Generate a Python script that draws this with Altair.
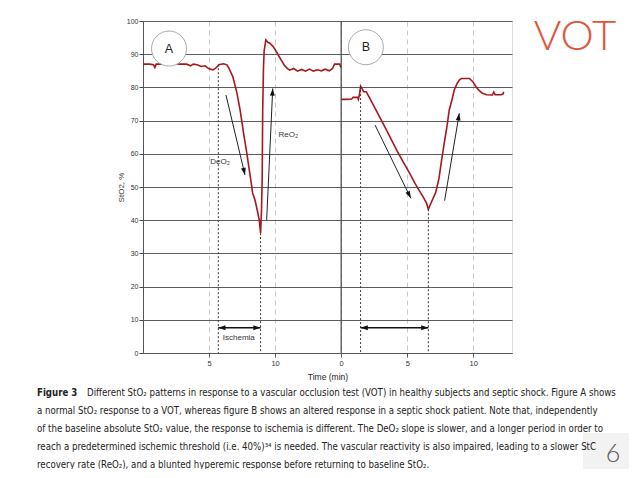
import altair as alt
import pandas as pd

# ---------------- data ----------------
A_time = [0.0, 0.5, 0.8, 0.9, 1.0, 1.6, 2.2, 2.8, 3.3, 3.6, 3.8, 4.1, 4.4, 4.7, 5.0, 5.3, 5.5, 5.8, 6.1, 6.35,
          6.5, 6.8, 7.1, 7.35, 7.6, 7.86, 8.05, 8.2, 8.3, 8.48, 8.65, 8.8, 8.9, 8.97, 9.02, 9.06, 9.12, 9.17, 9.3,
          9.45, 9.6, 9.85, 10.1, 10.3, 10.5, 10.7, 10.9, 11.1, 11.4, 11.7, 12.0, 12.3, 12.6, 12.9, 13.2, 13.5,
          13.8, 14.1, 14.35, 14.5, 14.7, 14.9, 14.97]
A_sto2 = [87.0, 87.0, 86.8, 86.0, 87.0, 87.0, 87.2, 87.0, 87.0, 86.5, 87.0, 86.8, 86.3, 86.5, 85.6, 85.3, 85.8,
          86.9, 87.1, 86.8, 85.8, 83.2, 78.5, 73.2, 66.5, 60.1, 55.0, 51.0, 48.2, 46.0, 43.0, 40.0, 36.1, 43.0,
          52.0, 73.0, 86.0, 91.0, 94.3, 93.6, 93.3, 92.3, 90.8, 89.3, 88.0, 86.7, 85.8, 85.2, 85.7, 84.9, 85.4,
          84.9, 85.5, 84.9, 85.3, 85.0, 85.5, 85.0, 85.7, 87.0, 87.0, 87.0, 86.0]

B_time = [0.0, 0.4, 0.8, 0.9, 1.1, 1.25, 1.3, 1.38, 1.47, 1.6, 1.7, 1.9, 2.1, 2.5, 2.9, 3.5, 4.2, 4.7, 5.2, 5.6,
          5.9, 6.2, 6.45, 6.6, 6.9, 7.15, 7.4, 7.6, 7.8, 8.0, 8.18, 8.4, 8.56, 8.75, 8.94, 9.1, 9.4, 9.7, 9.95,
          10.2, 10.45, 10.7, 11.0, 11.45, 11.55, 11.65, 12.1, 12.25, 12.3]
B_sto2 = [76.4, 76.4, 76.5, 77.0, 77.0, 77.0, 76.4, 77.7, 80.4, 79.5, 78.7, 78.7, 77.2, 74.2, 71.2, 66.6, 61.1,
          57.5, 54.0, 51.0, 49.0, 47.0, 45.2, 43.3, 46.1, 48.3, 52.5, 58.0, 63.2, 68.0, 73.2, 76.5, 79.2, 81.0,
          82.2, 82.7, 82.7, 82.7, 81.8, 80.2, 79.0, 78.2, 77.8, 77.7, 78.6, 77.8, 77.8, 78.0, 78.7]

B_OFFSET = 15          # panel B starts where panel A's 15-minute window ends
X_MAX = 27.93

# occlusion start / end markers (time, StO2 reached)
A_events_t = [5.7, 8.9]
A_events_v = [87.0, 36.1]
B_events_t = [1.47, 6.6]
B_events_v = [80.4, 43.3]
ISCH_LEVEL = 7.6

# DeO2 / ReO2 arrows (panel, start t, start v, end t, end v)
arr_panel = ["A", "A", "B", "B"]
arr_t0 = [6.28, 9.36, 2.56, 7.83]
arr_v0 = [77.7, 40.1, 68.7, 45.9]
arr_t1 = [7.72, 9.82, 5.27, 8.94]
arr_v1 = [53.6, 79.7, 46.6, 72.2]
arr_angle = [167, 3, 154, 9]

caption_head = "Figure 3"
caption_lines = [
    "Different StO₂ patterns in response to a vascular occlusion test (VOT) in healthy subjects and septic shock. Figure A shows",
    "a normal StO₂ response to a VOT, whereas figure B shows an altered response in a septic shock patient. Note that, independently",
    "of the baseline absolute StO₂ value, the response to ischemia is different. The DeO₂ slope is slower, and a longer period in order to",
    "reach a predetermined ischemic threshold (i.e. 40%)³⁴ is needed. The vascular reactivity is also impaired, leading to a slower StC",
    "recovery rate (ReO₂), and a blunted hyperemic response before returning to baseline StO₂.",
]

# ---------------- tables ----------------
def off(panel):
    return B_OFFSET if panel == "B" else 0

curves = pd.concat([
    pd.DataFrame({"t": A_time, "v": A_sto2, "panel": "A"}),
    pd.DataFrame({"t": [x + B_OFFSET for x in B_time], "v": B_sto2, "panel": "B"}),
])
events = pd.DataFrame({
    "t": A_events_t + [x + B_OFFSET for x in B_events_t],
    "v": A_events_v + B_events_v,
})
isch = pd.DataFrame({
    "t": [A_events_t[0], B_events_t[0] + B_OFFSET],
    "t2": [A_events_t[1], B_events_t[1] + B_OFFSET],
    "v": [ISCH_LEVEL, ISCH_LEVEL],
})
isch_heads = pd.DataFrame({
    "t": [A_events_t[0], A_events_t[1], B_events_t[0] + B_OFFSET, B_events_t[1] + B_OFFSET],
    "v": [ISCH_LEVEL] * 4,
    "ang": [270, 90, 270, 90],
})
arrows = pd.DataFrame({
    "t": [a + off(p) for a, p in zip(arr_t0, arr_panel)],
    "v": arr_v0,
    "t2": [a + off(p) for a, p in zip(arr_t1, arr_panel)],
    "v2": arr_v1,
    "ang": arr_angle,
})
labels = pd.DataFrame({
    "t": [5.83, 11.0, 7.25],
    "v": [57.6, 65.7, 4.5],
    "txt": ["DeO₂", "ReO₂", "Ischemia"],
})
badges = pd.DataFrame({"t": [1.97, 1.87 + B_OFFSET], "v": [91.7, 92.1], "txt": ["A", "B"]})

# ---------------- encodings ----------------
FONT = "Liberation Sans"
xscale = alt.Scale(domain=[0, X_MAX], nice=False, zero=False)
yscale = alt.Scale(domain=[0, 100], nice=False)
xaxis = alt.Axis(title="Time (min)", values=[5, 10, 15, 20, 25],
                 labelExpr="datum.value >= 15 ? format(datum.value - 15, 'd') : format(datum.value, 'd')",
                 grid=True, gridColor="#c8c8c8", gridDash=[5, 4], gridWidth=1,
                 domainColor="#555", tickColor="#555", tickSize=4, labelFontSize=7.5,
                 labelColor="#333", labelPadding=2, titleFontSize=8.5, titleFontWeight="normal",
                 titleColor="#222", titlePadding=6, labelFont=FONT, titleFont=FONT)
yaxis = alt.Axis(title="StO2, %", values=list(range(0, 101, 10)), grid=True, gridColor="#5c5c5c",
                 gridWidth=1.1, domainColor="#555", tickColor="#444", tickSize=4, labelFontSize=7,
                 labelColor="#333", labelPadding=1, titleFontSize=8, titleFontWeight="normal",
                 titleColor="#333", titlePadding=1, labelFont=FONT, titleFont=FONT)


def X(f):
    return alt.X(f, type="quantitative", scale=xscale, axis=xaxis)


def Y(f):
    return alt.Y(f, type="quantitative", scale=yscale, axis=yaxis)


PX, PY = 143, 21  # page position of the plot origin


def txt(s, px, py, size, font=FONT, color="#222", weight="normal", align="left", baseline="middle"):
    return alt.Chart(pd.DataFrame({"s": [s]})).mark_text(
        font=font, fontSize=size, color=color, fontWeight=weight, align=align, baseline=baseline
    ).encode(x=alt.value(px - PX), y=alt.value(py - PY), text="s:N")


line = alt.Chart(curves).mark_line(color="#a5181c", strokeWidth=1.6, interpolate="linear").encode(
    x=X("t"), y=Y("v"), detail="panel:N", order="t:Q")

sep = alt.Chart(pd.DataFrame({"t": [B_OFFSET]})).mark_rule(color="#444", strokeWidth=1.2).encode(x=X("t"))

ev = alt.Chart(events).mark_rule(color="#333", strokeDash=[2, 2], strokeWidth=1).encode(
    x=X("t"), y=Y("v"), y2=alt.Y2(datum=0))

isch_r = alt.Chart(isch).mark_rule(color="#111", strokeWidth=1.3).encode(x=X("t"), x2="t2", y=Y("v"))
ARROW = "M0,0 L-1.2,3.6 L1.2,3.6 Z"
isch_h = alt.Chart(isch_heads).mark_point(shape=ARROW, filled=True, color="#111", size=16, opacity=1).encode(
    x=X("t"), y=Y("v"), angle=alt.Angle("ang:Q", scale=None))

arr_r = alt.Chart(arrows).mark_rule(color="#222", strokeWidth=1).encode(x=X("t"), x2="t2", y=Y("v"), y2="v2")
arr_h = alt.Chart(arrows).mark_point(shape=ARROW, filled=True, color="#111", size=16, opacity=1).encode(
    x=X("t2"), y=Y("v2"), angle=alt.Angle("ang:Q", scale=None))

lab = alt.Chart(labels).mark_text(font=FONT, fontSize=8, color="#333").encode(x=X("t"), y=Y("v"), text="txt:N")

circ = alt.Chart(badges).mark_point(shape="circle", filled=True, fill="white", stroke="#aaa",
                                    strokeWidth=1, size=1225, opacity=1).encode(x=X("t"), y=Y("v"))
circ_t = alt.Chart(badges).mark_text(font=FONT, fontSize=12.5, color="#222").encode(
    x=X("t"), y=Y("v"), text="txt:N")

# slide decorations
box = alt.Chart(pd.DataFrame({"a": [0]})).mark_rect(color="#f2f2f2").encode(
    x=alt.value(583 - PX), x2=alt.value(630 - PX), y=alt.value(433 - PY), y2=alt.value(470 - PY))

CAP_FONT = "DejaVu Sans Condensed, Roboto Condensed, Liberation Sans Narrow, Arial Narrow, sans-serif"
CAP_SIZE = 9.6
cap_y = [393, 411, 429, 447, 465]
cap = [txt(caption_head, 37, cap_y[0], CAP_SIZE, font=CAP_FONT, weight="bold")]
cap.append(txt(caption_lines[0], 87, cap_y[0], CAP_SIZE, font=CAP_FONT))
for s, yy in zip(caption_lines[1:], cap_y[1:]):
    cap.append(txt(s, 37, yy, CAP_SIZE, font=CAP_FONT))

vot = txt("VOT", 575, 49.5, 42, font="Lato", color="#e2533a", weight=300, align="center", baseline="alphabetic")
page = txt("6", 613, 462, 25, font="Lato", color="#555", weight=300, align="center", baseline="alphabetic")

chart = alt.layer(
    box, line, sep, ev, isch_r, isch_h, arr_r, arr_h, lab, circ, circ_t, *cap, vot, page
).properties(
    width=369, height=332,
    autosize=alt.AutoSizeParams(type="none"),
    padding={"left": 135, "top": 13, "right": 117, "bottom": 116},
).configure_view(stroke=None).configure(background="white")

chart.save("out.html", embed_options={"renderer": "svg", "actions": False})
